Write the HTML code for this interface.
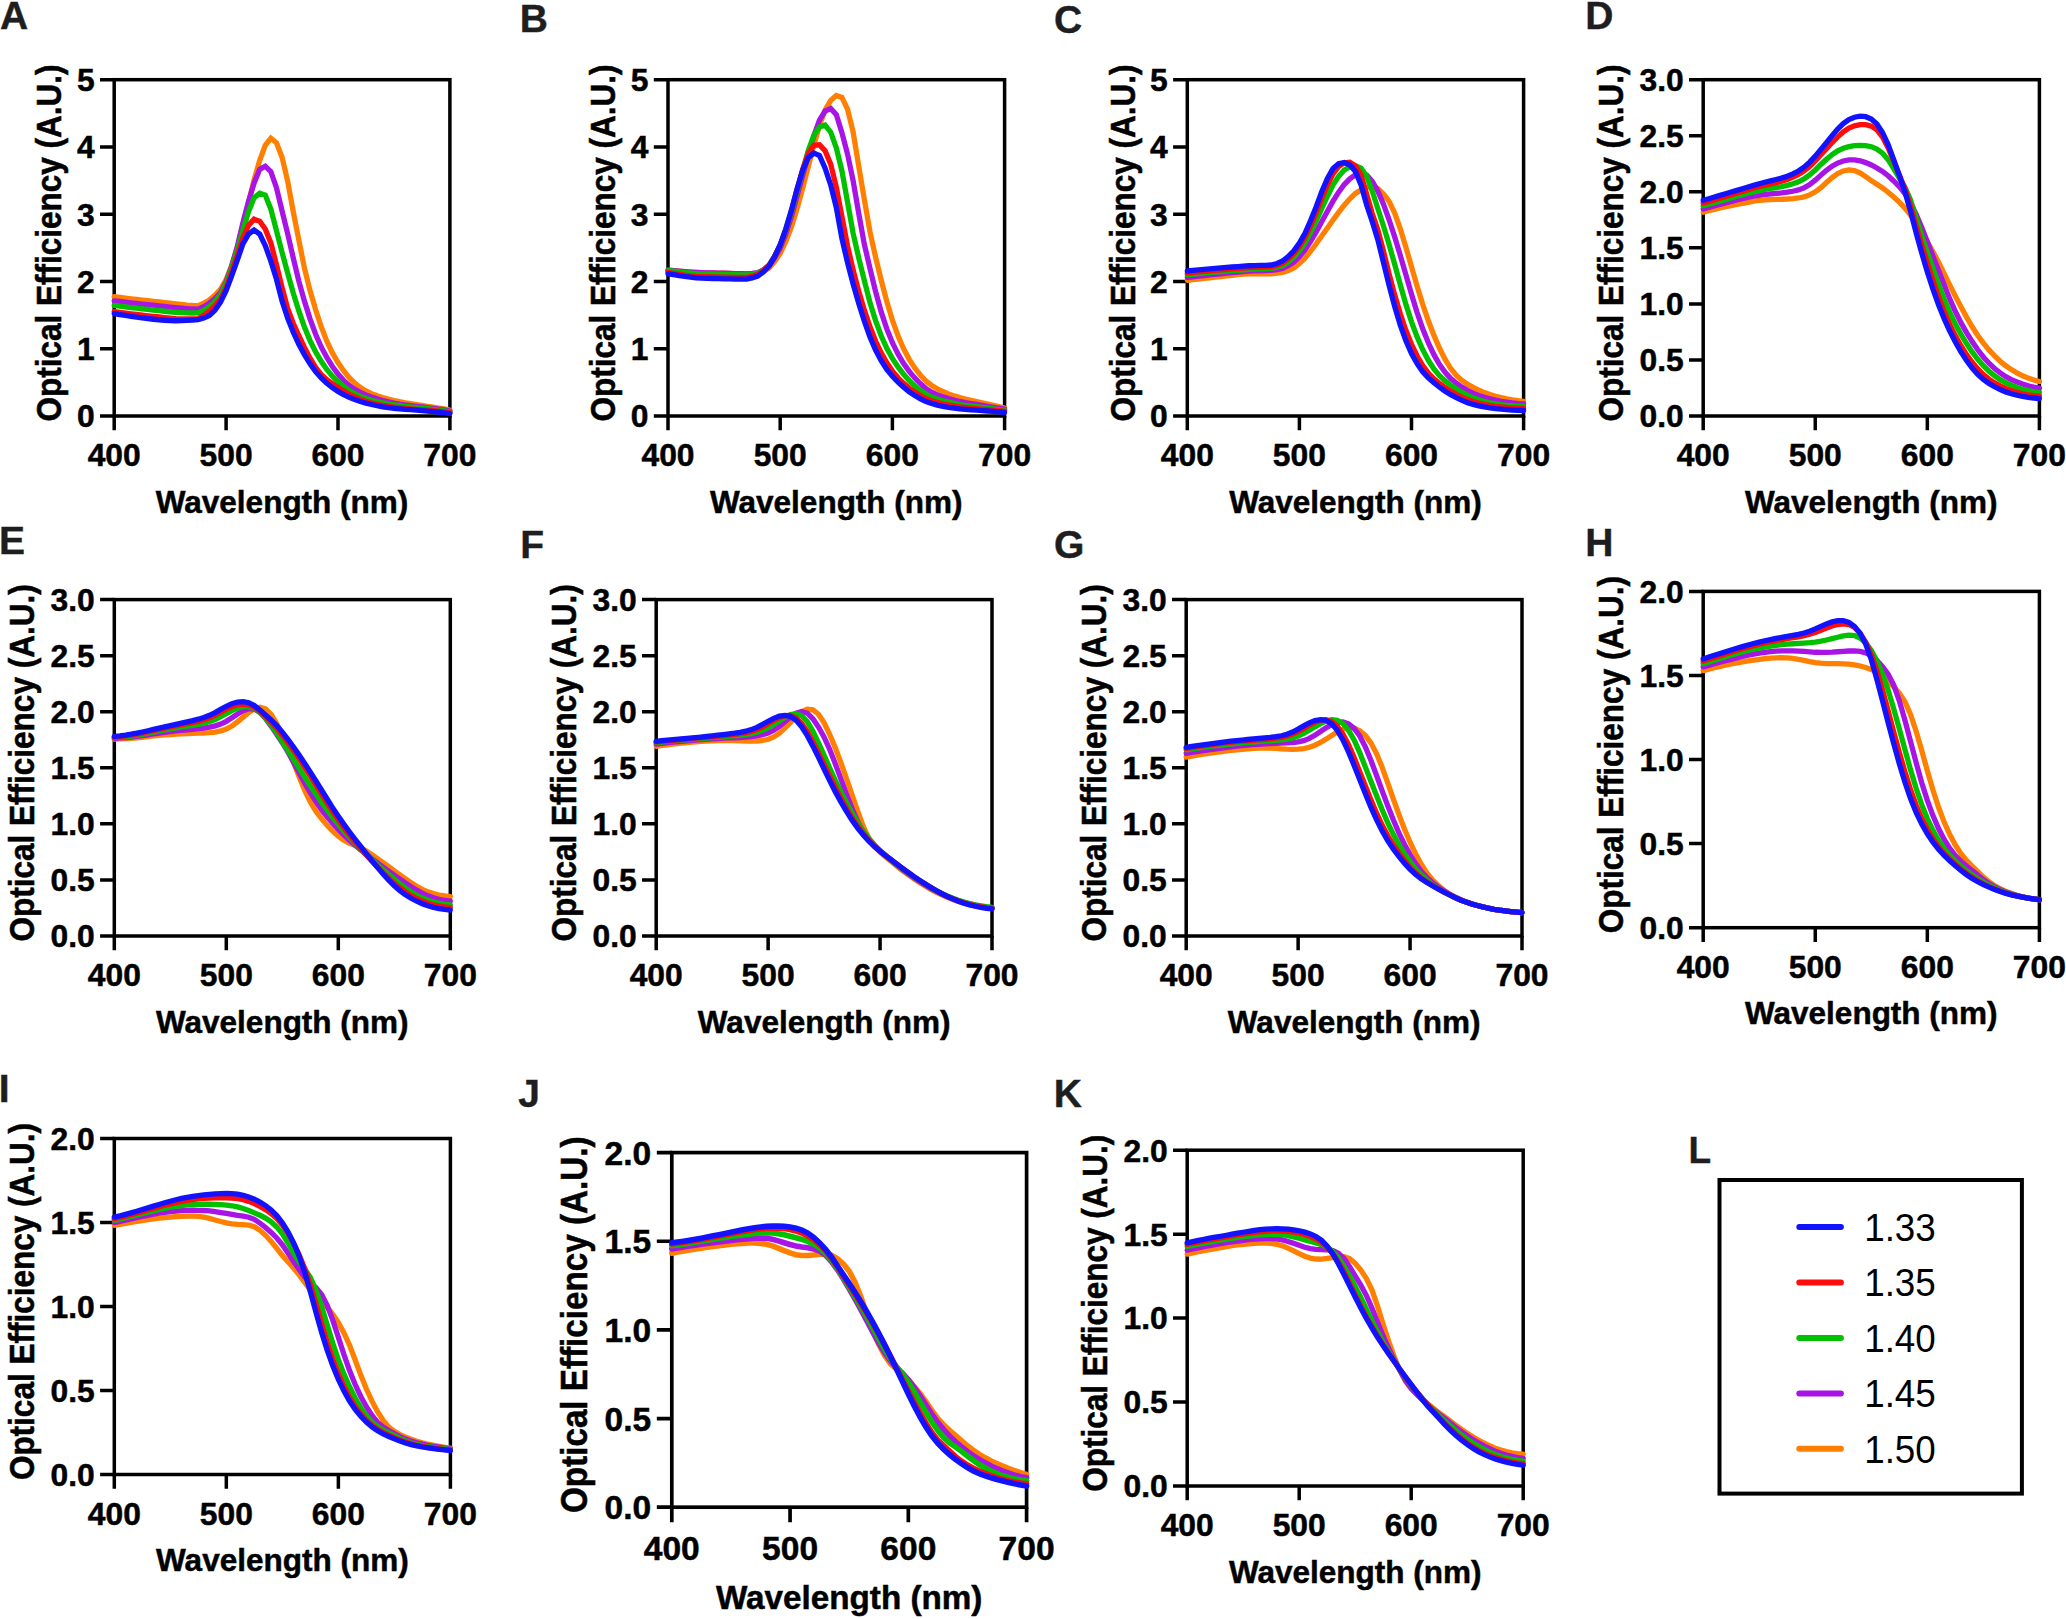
<!DOCTYPE html>
<html lang="en"><head><meta charset="utf-8"><title>Optical Efficiency vs Wavelength</title>
<style>
html,body{margin:0;padding:0;background:#fff}
body{width:2066px;height:1619px;overflow:hidden}
svg{display:block}
text{font-family:"Liberation Sans",sans-serif}
.b{font-weight:700;fill:#000;stroke:#000;stroke-width:0.5px}
.let{font-weight:700;fill:#1e1e1e;stroke:#1e1e1e;stroke-width:0.4px}
.ax{stroke:#000;fill:none;stroke-linecap:butt}
.cv{fill:none;stroke-linejoin:miter;stroke-linecap:round}
</style></head><body>
<svg width="2066" height="1619" viewBox="0 0 2066 1619">
<rect width="2066" height="1619" fill="#fff"/>
<g id="panel-A">
<text class="let" x="0" y="28.6" font-size="39">A</text>
<rect class="ax" x="114.2" y="79.7" width="335.7" height="336.3" stroke-width="3.5"/>
<path class="ax" stroke-width="3.5" d="M100,416 H114.2 M100,348.74 H114.2 M100,281.48 H114.2 M100,214.22 H114.2 M100,146.96 H114.2 M100,79.7 H114.2 M114.2,416 V430.2 M226.1,416 V430.2 M338,416 V430.2 M449.9,416 V430.2"/>
<g class="b" font-size="31.8" text-anchor="end">
<text x="94.7" y="427.38">0</text>
<text x="94.7" y="360.12">1</text>
<text x="94.7" y="292.86">2</text>
<text x="94.7" y="225.6">3</text>
<text x="94.7" y="158.34">4</text>
<text x="94.7" y="91.08">5</text>
</g>
<g class="b" font-size="31.8" text-anchor="middle">
<text x="114.2" y="466">400</text>
<text x="226.1" y="466">500</text>
<text x="338" y="466">600</text>
<text x="449.9" y="466">700</text>
</g>
<text class="b" font-size="31.5" text-anchor="middle" x="282.05" y="512.5">Wavelength (nm)</text>
<text class="b" font-size="31.5" text-anchor="middle" transform="translate(61.4,242.95) rotate(-90) scale(1,1.1)">Optical Efficiency (A.U.)</text>
<g class="cv" stroke-width="5.3">
<path stroke="#ff8000" d="M114.2,296.7 119.8,297.4 125.39,298.09 130.99,298.76 136.58,299.42 142.18,300.06 147.77,300.7 153.37,301.34 158.96,301.97 164.56,302.6 170.15,303.23 175.75,303.88 181.34,304.49 186.94,305.04 192.53,305.46 198.12,305.66 203.72,303.31 209.31,299.89 214.91,295.28 220.5,289.22 226.1,279.71 231.69,265.52 237.29,247.82 242.88,225.47 248.48,202.79 254.07,180.05 259.67,160.56 265.26,145.42 270.86,138.26 276.45,142.78 282.05,157.23 287.64,181.04 293.24,211.84 298.83,239.96 304.43,268.25 310.02,290.58 315.62,309.74 321.21,326.61 326.81,341.14 332.4,352.94 338,362.55 343.59,370.69 349.19,377.62 354.78,383.21 360.38,387.54 365.97,390.94 371.57,393.61 377.16,395.76 382.76,397.56 388.35,399.11 393.95,400.48 399.54,401.71 405.14,402.78 410.73,403.73 416.33,404.62 421.92,405.48 427.52,406.31 433.11,407.14 438.71,408.01 444.3,408.96 449.9,410.02"/>
<path stroke="#a813e6" d="M114.2,300.8 119.8,301.48 125.39,302.14 130.99,302.78 136.58,303.41 142.18,304.02 147.77,304.63 153.37,305.23 158.96,305.83 164.56,306.42 170.15,307.02 175.75,307.61 181.34,308.17 186.94,308.65 192.53,309.02 198.12,309.15 203.72,306.65 209.31,303.12 214.91,298.57 220.5,292.47 226.1,281.97 231.69,266.06 237.29,246.74 242.88,222.93 248.48,201.47 254.07,183.24 259.67,169.33 265.26,166.19 270.86,171.72 276.45,187.65 282.05,210.92 287.64,233.53 293.24,257.85 298.83,281.12 304.43,301.14 310.02,318.8 315.62,334.24 321.21,346.96 326.81,357.43 332.4,366.44 338,374.11 343.59,380.37 349.19,385.39 354.78,389.32 360.38,392.43 365.97,394.99 371.57,397.1 377.16,398.89 382.76,400.45 388.35,401.83 393.95,403.05 399.54,404.11 405.14,404.97 410.73,405.67 416.33,406.3 421.92,406.94 427.52,407.61 433.11,408.31 438.71,409.08 444.3,409.97 449.9,411.03"/>
<path stroke="#00c000" d="M114.2,305.3 119.8,306.07 125.39,306.8 130.99,307.51 136.58,308.18 142.18,308.83 147.77,309.46 153.37,310.07 158.96,310.66 164.56,311.24 170.15,311.8 175.75,312.27 181.34,312.63 186.94,312.88 192.53,313 198.12,312.92 203.72,310.39 209.31,306.73 214.91,301.65 220.5,294.67 226.1,283.52 231.69,267.86 237.29,250.35 242.88,230.59 248.48,211.73 254.07,197.85 259.67,193.21 265.26,195.11 270.86,209.15 276.45,230.63 282.05,252.36 287.64,273.01 293.24,292.91 298.83,310.98 304.43,327.04 310.02,340.62 315.62,351.93 321.21,361.35 326.81,369.42 332.4,376.16 338,381.68 343.59,386.39 349.19,390.47 354.78,393.79 360.38,396.45 365.97,398.59 371.57,400.31 377.16,401.73 382.76,402.94 388.35,403.99 393.95,404.91 399.54,405.72 405.14,406.41 410.73,406.99 416.33,407.55 421.92,408.12 427.52,408.73 433.11,409.38 438.71,410.11 444.3,410.98 449.9,412.03"/>
<path stroke="#ff0d0d" d="M114.2,311.5 119.8,312.3 125.39,313.06 130.99,313.78 136.58,314.47 142.18,315.13 147.77,315.76 153.37,316.37 158.96,316.96 164.56,317.54 170.15,318.1 175.75,318.54 181.34,318.84 186.94,318.98 192.53,318.96 198.12,318.67 203.72,315.35 209.31,310.9 214.91,305.84 220.5,299 226.1,287.54 231.69,271.9 237.29,255.39 242.88,237.98 248.48,225.5 254.07,219.21 259.67,221.16 265.26,228.96 270.86,242.94 276.45,264.61 282.05,287.44 287.64,308.43 293.24,323.26 298.83,335.71 304.43,347.49 310.02,358.14 315.62,367.34 321.21,374.45 326.81,379.59 332.4,383.66 338,387.34 343.59,390.89 349.19,394.17 354.78,396.97 360.38,399.29 365.97,401.22 371.57,402.8 377.16,404.12 382.76,405.25 388.35,406.21 393.95,407.03 399.54,407.74 405.14,408.33 410.73,408.84 416.33,409.3 421.92,409.76 427.52,410.22 433.11,410.69 438.71,411.23 444.3,411.93 449.9,412.84"/>
<path stroke="#1212ff" d="M114.2,313.6 119.8,314.55 125.39,315.46 130.99,316.33 136.58,317.15 142.18,317.92 147.77,318.62 153.37,319.25 158.96,319.8 164.56,320.26 170.15,320.61 175.75,320.73 181.34,320.64 186.94,320.4 192.53,320.08 198.12,319.71 203.72,318.11 209.31,315.56 214.91,310.18 220.5,302.27 226.1,290.78 231.69,275.92 237.29,260.15 242.88,243.85 248.48,234.14 254.07,229.93 259.67,234.06 265.26,245.62 270.86,261.21 276.45,279.31 282.05,301.04 287.64,318.13 293.24,332.25 298.83,344.31 304.43,354.8 310.02,363.86 315.62,371.64 321.21,377.98 326.81,383.21 332.4,387.65 338,391.39 343.59,394.59 349.19,397.32 354.78,399.59 360.38,401.48 365.97,403.1 371.57,404.51 377.16,405.74 382.76,406.8 388.35,407.64 393.95,408.3 399.54,408.85 405.14,409.32 410.73,409.73 416.33,410.14 421.92,410.58 427.52,411.07 433.11,411.6 438.71,412.17 444.3,412.81 449.9,413.51"/>
</g>
</g>
<g id="panel-B">
<text class="let" x="519.8" y="31.7" font-size="39">B</text>
<rect class="ax" x="668" y="79.7" width="336.6" height="336.3" stroke-width="3.5"/>
<path class="ax" stroke-width="3.5" d="M653.8,416 H668 M653.8,348.74 H668 M653.8,281.48 H668 M653.8,214.22 H668 M653.8,146.96 H668 M653.8,79.7 H668 M668,416 V430.2 M780.2,416 V430.2 M892.4,416 V430.2 M1004.6,416 V430.2"/>
<g class="b" font-size="31.8" text-anchor="end">
<text x="648.5" y="427.38">0</text>
<text x="648.5" y="360.12">1</text>
<text x="648.5" y="292.86">2</text>
<text x="648.5" y="225.6">3</text>
<text x="648.5" y="158.34">4</text>
<text x="648.5" y="91.08">5</text>
</g>
<g class="b" font-size="31.8" text-anchor="middle">
<text x="668" y="466">400</text>
<text x="780.2" y="466">500</text>
<text x="892.4" y="466">600</text>
<text x="1004.6" y="466">700</text>
</g>
<text class="b" font-size="31.5" text-anchor="middle" x="836.3" y="512.5">Wavelength (nm)</text>
<text class="b" font-size="31.5" text-anchor="middle" transform="translate(615.2,242.95) rotate(-90) scale(1,1.1)">Optical Efficiency (A.U.)</text>
<g class="cv" stroke-width="5.3">
<path stroke="#ff8000" d="M668,270.13 673.61,270.68 679.22,271.22 684.83,271.72 690.44,272.16 696.05,272.51 701.66,272.74 707.27,272.87 712.88,272.96 718.49,273.06 724.1,273.19 729.71,273.36 735.32,273.53 740.93,273.7 746.54,273.85 752.15,273.84 757.76,273.5 763.37,271.41 768.98,268.14 774.59,261.73 780.2,253.44 785.81,241.57 791.42,226.94 797.03,208.66 802.64,188.36 808.25,166.52 813.86,145.25 819.47,125.56 825.08,110.15 830.69,100.46 836.3,95.48 841.91,97.43 847.52,109.08 853.13,132.06 858.74,166.23 864.35,199.66 869.96,231.74 875.57,257.14 881.18,280.18 886.79,301.48 892.4,320.17 898.01,335.8 903.62,348.7 909.23,359.34 914.84,368.08 920.45,375.24 926.06,381.01 931.67,385.45 937.28,388.83 942.89,391.57 948.5,393.88 954.11,395.89 959.72,397.65 965.33,399.14 970.94,400.4 976.55,401.59 982.16,402.8 987.77,404.07 993.38,405.36 998.99,406.67 1004.6,408"/>
<path stroke="#a813e6" d="M668,270.13 673.61,270.68 679.22,271.22 684.83,271.72 690.44,272.16 696.05,272.51 701.66,272.74 707.27,272.87 712.88,272.97 718.49,273.06 724.1,273.19 729.71,273.36 735.32,273.54 740.93,273.71 746.54,273.81 752.15,273.44 757.76,272.66 763.37,270.01 768.98,265.93 774.59,258.1 780.2,248 785.81,233.81 791.42,216.44 797.03,195.95 802.64,175.65 808.25,155.4 813.86,135.78 819.47,120.09 825.08,111.1 830.69,108.51 836.3,114.58 841.91,132.62 847.52,154.01 853.13,180.74 858.74,213.55 864.35,244.43 869.96,268.43 875.57,291.51 881.18,311.93 886.79,328.89 892.4,342.74 898.01,354.09 903.62,363.49 909.23,371.38 914.84,378.08 920.45,383.86 926.06,388.62 931.67,392.18 937.28,394.82 942.89,396.9 948.5,398.63 954.11,400.14 959.72,401.47 965.33,402.59 970.94,403.56 976.55,404.46 982.16,405.37 987.77,406.31 993.38,407.26 998.99,408.23 1004.6,409.2"/>
<path stroke="#00c000" d="M668,270.56 673.61,271.24 679.22,271.91 684.83,272.54 690.44,273.09 696.05,273.53 701.66,273.82 707.27,274.03 712.88,274.19 718.49,274.34 724.1,274.49 729.71,274.62 735.32,274.73 740.93,274.83 746.54,274.85 752.15,274.25 757.76,273.15 763.37,269.93 768.98,265.08 774.59,256.32 780.2,245.42 785.81,230.76 791.42,212.77 797.03,191.72 802.64,170.72 808.25,150.6 813.86,135.46 819.47,127.01 825.08,125.12 830.69,132.21 836.3,147.76 841.91,170.87 847.52,201.96 853.13,233.3 858.74,257.99 864.35,280.6 869.96,302.64 875.57,320.56 881.18,335.74 886.79,348.26 892.4,358.5 898.01,366.96 903.62,374.24 909.23,380.59 914.84,386.01 920.45,390.57 926.06,394.29 931.67,397.07 937.28,399.13 942.89,400.77 948.5,402.18 954.11,403.43 959.72,404.52 965.33,405.39 970.94,406.09 976.55,406.72 982.16,407.38 987.77,408.08 993.38,408.81 998.99,409.55 1004.6,410.3"/>
<path stroke="#ff0d0d" d="M668,272.29 673.61,273.24 679.22,274.18 684.83,275.06 690.44,275.8 696.05,276.35 701.66,276.63 707.27,276.76 712.88,276.87 718.49,276.97 724.1,277.08 729.71,277.19 735.32,277.31 740.93,277.42 746.54,277.38 752.15,276.18 757.76,274.37 763.37,270.62 768.98,265.31 774.59,256.41 780.2,245.16 785.81,229.86 791.42,211.14 797.03,189.45 802.64,169.54 808.25,153.47 813.86,145.33 819.47,144.85 825.08,150.71 830.69,164.16 836.3,186.96 841.91,216.53 847.52,245.73 853.13,269.98 858.74,291.38 864.35,310.16 869.96,326.81 875.57,341.01 881.18,352.93 886.79,362.83 892.4,371.08 898.01,377.79 903.62,383.34 909.23,388.06 914.84,392.09 920.45,395.59 926.06,398.5 931.67,400.72 937.28,402.4 942.89,403.75 948.5,404.89 954.11,405.89 959.72,406.76 965.33,407.47 970.94,408.05 976.55,408.58 982.16,409.11 987.77,409.66 993.38,410.2 998.99,410.75 1004.6,411.3"/>
<path stroke="#1212ff" d="M668,273.81 673.61,274.73 679.22,275.65 684.83,276.5 690.44,277.24 696.05,277.81 701.66,278.15 707.27,278.35 712.88,278.52 718.49,278.67 724.1,278.81 729.71,278.95 735.32,279.07 740.93,279.16 746.54,279.11 752.15,277.92 757.76,276.04 763.37,271.92 768.98,266.15 774.59,256.68 780.2,244.73 785.81,228.86 791.42,210.13 797.03,189.13 802.64,170.42 808.25,157.74 813.86,153.16 819.47,155.43 825.08,168.1 830.69,184.91 836.3,207.54 841.91,238.58 847.52,262.69 853.13,284 858.74,303.56 864.35,321.28 869.96,337.03 875.57,350.02 881.18,360.71 886.79,369.33 892.4,376.29 898.01,382.13 903.62,387.27 909.23,391.76 914.84,395.58 920.45,398.85 926.06,401.55 931.67,403.59 937.28,405.13 942.89,406.34 948.5,407.31 954.11,408.11 959.72,408.79 965.33,409.32 970.94,409.76 976.55,410.16 982.16,410.57 987.77,410.99 993.38,411.42 998.99,411.86 1004.6,412.3"/>
</g>
</g>
<g id="panel-C">
<text class="let" x="1054" y="33" font-size="39">C</text>
<rect class="ax" x="1187.3" y="79.7" width="336.3" height="336.3" stroke-width="3.5"/>
<path class="ax" stroke-width="3.5" d="M1173.1,416 H1187.3 M1173.1,348.74 H1187.3 M1173.1,281.48 H1187.3 M1173.1,214.22 H1187.3 M1173.1,146.96 H1187.3 M1173.1,79.7 H1187.3 M1187.3,416 V430.2 M1299.4,416 V430.2 M1411.5,416 V430.2 M1523.6,416 V430.2"/>
<g class="b" font-size="31.8" text-anchor="end">
<text x="1167.8" y="427.38">0</text>
<text x="1167.8" y="360.12">1</text>
<text x="1167.8" y="292.86">2</text>
<text x="1167.8" y="225.6">3</text>
<text x="1167.8" y="158.34">4</text>
<text x="1167.8" y="91.08">5</text>
</g>
<g class="b" font-size="31.8" text-anchor="middle">
<text x="1187.3" y="466">400</text>
<text x="1299.4" y="466">500</text>
<text x="1411.5" y="466">600</text>
<text x="1523.6" y="466">700</text>
</g>
<text class="b" font-size="31.5" text-anchor="middle" x="1355.45" y="512.5">Wavelength (nm)</text>
<text class="b" font-size="31.5" text-anchor="middle" transform="translate(1134.5,242.95) rotate(-90) scale(1,1.1)">Optical Efficiency (A.U.)</text>
<g class="cv" stroke-width="5.3">
<path stroke="#ff8000" d="M1187.3,280.29 1192.9,279.64 1198.51,279 1204.12,278.37 1209.72,277.75 1215.33,277.14 1220.93,276.54 1226.53,275.92 1232.14,275.28 1237.74,274.67 1243.35,274.15 1248.95,273.78 1254.56,273.66 1260.16,273.74 1265.77,273.84 1271.38,273.75 1276.98,273.22 1282.59,272.4 1288.19,270.52 1293.79,267.87 1299.4,263.57 1305,258.14 1310.61,251.24 1316.21,243.79 1321.82,235.83 1327.42,227.91 1333.03,220.04 1338.63,212.41 1344.24,205.17 1349.85,198.78 1355.45,193.44 1361.05,189.89 1366.66,187.49 1372.26,186.72 1377.87,188.55 1383.47,194.09 1389.08,201.43 1394.68,213.1 1400.29,228.78 1405.89,247.16 1411.5,266.74 1417.11,286.15 1422.71,304.31 1428.32,320.75 1433.92,335.41 1439.52,348.3 1445.13,359.37 1450.73,368.52 1456.34,375.43 1461.94,380.41 1467.55,384.24 1473.15,387.42 1478.76,390.19 1484.37,392.6 1489.97,394.58 1495.57,396.22 1501.18,397.61 1506.78,398.8 1512.39,399.84 1517.99,400.73 1523.6,401.46"/>
<path stroke="#a813e6" d="M1187.3,277.48 1192.9,276.82 1198.51,276.17 1204.12,275.53 1209.72,274.91 1215.33,274.31 1220.93,273.74 1226.53,273.17 1232.14,272.6 1237.74,272.07 1243.35,271.59 1248.95,271.17 1254.56,270.93 1260.16,270.81 1265.77,270.71 1271.38,270.47 1276.98,269.74 1282.59,268.56 1288.19,265.77 1293.79,262.06 1299.4,256.65 1305,249.92 1310.61,241.31 1316.21,231.86 1321.82,221.58 1327.42,211.29 1333.03,201.1 1338.63,192.16 1344.24,184.52 1349.85,178.85 1355.45,174.79 1361.05,173.61 1366.66,175.2 1372.26,181.43 1377.87,191.1 1383.47,204.19 1389.08,219.75 1394.68,236.93 1400.29,255.41 1405.89,274.83 1411.5,294.35 1417.11,312.62 1422.71,328.78 1428.32,342.8 1433.92,354.68 1439.52,364.48 1445.13,372.37 1450.73,378.47 1456.34,383.18 1461.94,387.08 1467.55,390.4 1473.15,393.13 1478.76,395.39 1484.37,397.27 1489.97,398.84 1495.57,400.17 1501.18,401.29 1506.78,402.19 1512.39,402.93 1517.99,403.53 1523.6,403.96"/>
<path stroke="#00c000" d="M1187.3,274.89 1192.9,274.29 1198.51,273.71 1204.12,273.14 1209.72,272.6 1215.33,272.08 1220.93,271.59 1226.53,271.12 1232.14,270.67 1237.74,270.25 1243.35,269.84 1248.95,269.44 1254.56,269.13 1260.16,268.89 1265.77,268.64 1271.38,268.28 1276.98,267.23 1282.59,265.58 1288.19,262 1293.79,257.35 1299.4,250.84 1305,242.77 1310.61,232.46 1316.21,220.95 1321.82,208.29 1327.42,196.2 1333.03,184.88 1338.63,176.32 1344.24,169.96 1349.85,166.68 1355.45,165.8 1361.05,168.05 1366.66,176.24 1372.26,191.05 1377.87,208.8 1383.47,226.04 1389.08,244.6 1394.68,264.34 1400.29,284.69 1405.89,304.37 1411.5,321.87 1417.11,336.9 1422.71,349.69 1428.32,360.3 1433.92,368.89 1439.52,375.61 1445.13,380.86 1450.73,385.23 1456.34,389.03 1461.94,392.44 1467.55,395.42 1473.15,397.87 1478.76,399.85 1484.37,401.46 1489.97,402.76 1495.57,403.82 1501.18,404.67 1506.78,405.3 1512.39,405.75 1517.99,406.08 1523.6,406.27"/>
<path stroke="#ff0d0d" d="M1187.3,273.16 1192.9,272.56 1198.51,271.98 1204.12,271.41 1209.72,270.87 1215.33,270.35 1220.93,269.86 1226.53,269.39 1232.14,268.94 1237.74,268.51 1243.35,268.1 1248.95,267.71 1254.56,267.44 1260.16,267.27 1265.77,267.09 1271.38,266.75 1276.98,265.39 1282.59,263.24 1288.19,258.97 1293.79,253.64 1299.4,246.51 1305,237.48 1310.61,225.63 1316.21,212.42 1321.82,197.92 1327.42,185.02 1333.03,173.8 1338.63,166.46 1344.24,162.81 1349.85,162.21 1355.45,165.8 1361.05,175.14 1366.66,194.23 1372.26,213.48 1377.87,230.05 1383.47,251.19 1389.08,273.79 1394.68,294.86 1400.29,313.79 1405.89,330.24 1411.5,344.29 1417.11,356 1422.71,365.52 1428.32,373.01 1433.92,378.74 1439.52,383.45 1445.13,387.57 1450.73,391.18 1456.34,394.34 1461.94,397.15 1467.55,399.58 1473.15,401.53 1478.76,403.09 1484.37,404.37 1489.97,405.41 1495.57,406.28 1501.18,406.97 1506.78,407.47 1512.39,407.81 1517.99,408.05 1523.6,408.18"/>
<path stroke="#1212ff" d="M1187.3,271 1192.9,270.45 1198.51,269.92 1204.12,269.39 1209.72,268.88 1215.33,268.39 1220.93,267.91 1226.53,267.45 1232.14,267 1237.74,266.57 1243.35,266.16 1248.95,265.77 1254.56,265.53 1260.16,265.43 1265.77,265.32 1271.38,265.01 1276.98,263.43 1282.59,261.01 1288.19,256.54 1293.79,250.87 1299.4,243.05 1305,233.21 1310.61,220.56 1316.21,206.65 1321.82,191.57 1327.42,178.37 1333.03,168.52 1338.63,163.76 1344.24,162.47 1349.85,164.96 1355.45,171.48 1361.05,184.93 1366.66,205.06 1372.26,221.73 1377.87,239.98 1383.47,262.61 1389.08,285.31 1394.68,306.55 1400.29,325.17 1405.89,340.78 1411.5,353.5 1417.11,363.72 1422.71,371.74 1428.32,377.86 1433.92,382.83 1439.52,387.23 1445.13,391.17 1450.73,394.64 1456.34,397.67 1461.94,400.35 1467.55,402.64 1473.15,404.43 1478.76,405.84 1484.37,406.97 1489.97,407.88 1495.57,408.62 1501.18,409.22 1506.78,409.68 1512.39,410.04 1517.99,410.3 1523.6,410.48"/>
</g>
</g>
<g id="panel-D">
<text class="let" x="1585.3" y="29.3" font-size="39">D</text>
<rect class="ax" x="1703.2" y="79.7" width="336.2" height="336.3" stroke-width="3.5"/>
<path class="ax" stroke-width="3.5" d="M1689,416 H1703.2 M1689,359.95 H1703.2 M1689,303.9 H1703.2 M1689,247.85 H1703.2 M1689,191.8 H1703.2 M1689,135.75 H1703.2 M1689,79.7 H1703.2 M1703.2,416 V430.2 M1815.27,416 V430.2 M1927.33,416 V430.2 M2039.4,416 V430.2"/>
<g class="b" font-size="31.8" text-anchor="end">
<text x="1683.7" y="427.38">0.0</text>
<text x="1683.7" y="371.33">0.5</text>
<text x="1683.7" y="315.28">1.0</text>
<text x="1683.7" y="259.23">1.5</text>
<text x="1683.7" y="203.18">2.0</text>
<text x="1683.7" y="147.13">2.5</text>
<text x="1683.7" y="91.08">3.0</text>
</g>
<g class="b" font-size="31.8" text-anchor="middle">
<text x="1703.2" y="466">400</text>
<text x="1815.27" y="466">500</text>
<text x="1927.33" y="466">600</text>
<text x="2039.4" y="466">700</text>
</g>
<text class="b" font-size="31.5" text-anchor="middle" x="1871.3" y="512.5">Wavelength (nm)</text>
<text class="b" font-size="31.5" text-anchor="middle" transform="translate(1622.9,242.95) rotate(-90) scale(1,1.1)">Optical Efficiency (A.U.)</text>
<g class="cv" stroke-width="5.3">
<path stroke="#ff8000" d="M1703.2,212.2 1708.8,210.77 1714.41,209.37 1720.01,208.04 1725.61,206.78 1731.22,205.58 1736.82,204.43 1742.42,203.34 1748.03,202.28 1753.63,201.25 1759.23,200.36 1764.84,199.77 1770.44,199.49 1776.04,199.36 1781.65,199.24 1787.25,198.99 1792.85,198.61 1798.46,197.98 1804.06,196.85 1809.66,194.91 1815.27,191.88 1820.87,187.64 1826.47,182.52 1832.08,177.5 1837.68,173.5 1843.28,170.95 1848.89,169.98 1854.49,170.66 1860.09,172.97 1865.7,176.59 1871.3,180.64 1876.9,184.31 1882.51,187.98 1888.11,192.21 1893.71,196.96 1899.32,202.18 1904.92,208.08 1910.52,215.01 1916.13,223.15 1921.73,232.31 1927.33,241.94 1932.94,251.72 1938.54,262.17 1944.14,273.58 1949.75,285.08 1955.35,296.09 1960.95,306.76 1966.56,317.09 1972.16,326.77 1977.76,335.47 1983.37,343.13 1988.97,349.89 1994.57,355.89 2000.18,361.2 2005.78,365.76 2011.38,369.64 2016.99,372.95 2022.59,375.77 2028.19,378.09 2033.8,379.98 2039.4,381.48"/>
<path stroke="#a813e6" d="M1703.2,208.95 1708.8,207.48 1714.41,206 1720.01,204.53 1725.61,203.05 1731.22,201.55 1736.82,200.05 1742.42,198.63 1748.03,197.35 1753.63,196.23 1759.23,195.27 1764.84,194.49 1770.44,193.9 1776.04,193.41 1781.65,192.89 1787.25,192.2 1792.85,191.27 1798.46,189.95 1804.06,187.87 1809.66,184.64 1815.27,180.2 1820.87,175.15 1826.47,170.31 1832.08,166.17 1837.68,163.05 1843.28,160.99 1848.89,159.89 1854.49,159.84 1860.09,160.84 1865.7,162.61 1871.3,165.01 1876.9,167.96 1882.51,171.44 1888.11,175.74 1893.71,180.98 1899.32,186.65 1904.92,193.51 1910.52,202.84 1916.13,214.26 1921.73,227.47 1927.33,241.81 1932.94,256.24 1938.54,270.56 1944.14,284.9 1949.75,298.87 1955.35,311.54 1960.95,322.66 1966.56,332.59 1972.16,341.62 1977.76,349.78 1983.37,356.98 1988.97,363.21 1994.57,368.5 2000.18,372.95 2005.78,376.62 2011.38,379.59 2016.99,382.03 2022.59,384.07 2028.19,385.78 2033.8,387.13 2039.4,388.17"/>
<path stroke="#00c000" d="M1703.2,205.71 1708.8,204.21 1714.41,202.7 1720.01,201.16 1725.61,199.58 1731.22,197.95 1736.82,196.3 1742.42,194.69 1748.03,193.19 1753.63,191.83 1759.23,190.59 1764.84,189.46 1770.44,188.47 1776.04,187.55 1781.65,186.56 1787.25,185.35 1792.85,183.8 1798.46,181.77 1804.06,178.94 1809.66,174.99 1815.27,169.98 1820.87,164.47 1826.47,159.2 1832.08,154.58 1837.68,150.92 1843.28,148.31 1848.89,146.63 1854.49,145.67 1860.09,145.28 1865.7,145.54 1871.3,146.68 1876.9,149.04 1882.51,153.15 1888.11,159.71 1893.71,168.64 1899.32,178.16 1904.92,187.22 1910.52,199.96 1916.13,217.7 1921.73,235.73 1927.33,252.31 1932.94,268.35 1938.54,284.15 1944.14,299.02 1949.75,312.37 1955.35,324.07 1960.95,334.32 1966.56,343.53 1972.16,351.87 1977.76,359.28 1983.37,365.7 1988.97,371.19 1994.57,375.8 2000.18,379.63 2005.78,382.74 2011.38,385.27 2016.99,387.4 2022.59,389.21 2028.19,390.67 2033.8,391.79 2039.4,392.62"/>
<path stroke="#ff0d0d" d="M1703.2,203.11 1708.8,201.51 1714.41,199.89 1720.01,198.24 1725.61,196.55 1731.22,194.83 1736.82,193.08 1742.42,191.35 1748.03,189.67 1753.63,188.07 1759.23,186.54 1764.84,185.12 1770.44,183.84 1776.04,182.61 1781.65,181.25 1787.25,179.48 1792.85,177.19 1798.46,174.36 1804.06,170.85 1809.66,166.39 1815.27,160.92 1820.87,154.83 1826.47,148.63 1832.08,142.57 1837.68,136.86 1843.28,131.9 1848.89,128.18 1854.49,125.81 1860.09,124.62 1865.7,124.6 1871.3,126.1 1876.9,129.9 1882.51,136.98 1888.11,147.75 1893.71,161.25 1899.32,175.07 1904.92,188.66 1910.52,205.79 1916.13,225.83 1921.73,244.9 1927.33,262.84 1932.94,280.3 1938.54,296.77 1944.14,311.6 1949.75,324.59 1955.35,335.81 1960.95,345.72 1966.56,354.56 1972.16,362.29 1977.76,368.93 1983.37,374.56 1988.97,379.16 1994.57,382.86 2000.18,385.91 2005.78,388.49 2011.38,390.65 2016.99,392.42 2022.59,393.78 2028.19,394.79 2033.8,395.54 2039.4,396.04"/>
<path stroke="#1212ff" d="M1703.2,200.3 1708.8,198.68 1714.41,197.05 1720.01,195.41 1725.61,193.76 1731.22,192.08 1736.82,190.4 1742.42,188.72 1748.03,187.05 1753.63,185.41 1759.23,183.81 1764.84,182.29 1770.44,180.89 1776.04,179.53 1781.65,178.06 1787.25,176.25 1792.85,173.94 1798.46,170.99 1804.06,167.12 1809.66,162.14 1815.27,156.17 1820.87,149.52 1826.47,142.57 1832.08,135.63 1837.68,129.11 1843.28,123.57 1848.89,119.58 1854.49,117.2 1860.09,116.23 1865.7,116.71 1871.3,119.06 1876.9,124.03 1882.51,132.47 1888.11,144.64 1893.71,159.58 1899.32,175.28 1904.92,191.68 1910.52,211.32 1916.13,232.72 1921.73,253.06 1927.33,271.9 1932.94,289.19 1938.54,304.84 1944.14,318.78 1949.75,331.08 1955.35,342.02 1960.95,351.85 1966.56,360.57 1972.16,368.04 1977.76,374.27 1983.37,379.35 1988.97,383.43 1994.57,386.77 2000.18,389.57 2005.78,391.89 2011.38,393.73 2016.99,395.19 2022.59,396.33 2028.19,397.26 2033.8,398.01 2039.4,398.57"/>
</g>
</g>
<g id="panel-E">
<text class="let" x="-0.9" y="553.6" font-size="39">E</text>
<rect class="ax" x="114.3" y="599.6" width="336" height="336.4" stroke-width="3.5"/>
<path class="ax" stroke-width="3.5" d="M100.1,936 H114.3 M100.1,879.93 H114.3 M100.1,823.87 H114.3 M100.1,767.8 H114.3 M100.1,711.73 H114.3 M100.1,655.67 H114.3 M100.1,599.6 H114.3 M114.3,936 V950.2 M226.3,936 V950.2 M338.3,936 V950.2 M450.3,936 V950.2"/>
<g class="b" font-size="31.8" text-anchor="end">
<text x="94.8" y="947.38">0.0</text>
<text x="94.8" y="891.32">0.5</text>
<text x="94.8" y="835.25">1.0</text>
<text x="94.8" y="779.18">1.5</text>
<text x="94.8" y="723.12">2.0</text>
<text x="94.8" y="667.05">2.5</text>
<text x="94.8" y="610.98">3.0</text>
</g>
<g class="b" font-size="31.8" text-anchor="middle">
<text x="114.3" y="986">400</text>
<text x="226.3" y="986">500</text>
<text x="338.3" y="986">600</text>
<text x="450.3" y="986">700</text>
</g>
<text class="b" font-size="31.5" text-anchor="middle" x="282.3" y="1032.5">Wavelength (nm)</text>
<text class="b" font-size="31.5" text-anchor="middle" transform="translate(34,762.9) rotate(-90) scale(1,1.1)">Optical Efficiency (A.U.)</text>
<g class="cv" stroke-width="5.3">
<path stroke="#ff8000" d="M114.3,739.1 119.9,738.95 125.5,738.71 131.1,738.38 136.7,737.94 142.3,737.37 147.9,736.68 153.5,735.98 159.1,735.39 164.7,734.9 170.3,734.49 175.9,734.14 181.5,733.87 187.1,733.64 192.7,733.43 198.3,733.22 203.9,732.99 209.5,732.67 215.1,732.08 220.7,730.96 226.3,729.04 231.9,726.01 237.5,721.89 243.1,717.12 248.7,712.44 254.3,708.81 259.9,707.31 265.5,708.88 271.1,714.31 276.7,723.44 282.3,734.83 287.9,747.62 293.5,761.95 299.1,776.81 304.7,790.35 310.3,801.87 315.9,811.18 321.5,818.67 327.1,825.19 332.7,831.1 338.3,836.25 343.9,840.35 349.5,843.23 355.1,845.36 360.7,847.87 366.3,851.07 371.9,854.7 377.5,858.6 383.1,862.66 388.7,866.76 394.3,870.84 399.9,874.86 405.5,878.88 411.1,882.76 416.7,886.29 422.3,889.36 427.9,891.82 433.5,893.64 439.1,895.01 444.7,895.98 450.3,896.56"/>
<path stroke="#a813e6" d="M114.3,738.23 119.9,737.94 125.5,737.54 131.1,737.04 136.7,736.43 142.3,735.7 147.9,734.86 153.5,733.99 159.1,733.15 164.7,732.36 170.3,731.62 175.9,730.93 181.5,730.32 187.1,729.8 192.7,729.31 198.3,728.74 203.9,728.03 209.5,727.13 215.1,725.87 220.7,724.02 226.3,721.31 231.9,717.77 237.5,713.98 243.1,710.7 248.7,708.72 254.3,709.07 259.9,712.48 265.5,718.54 271.1,726.07 276.7,734.2 282.3,742.75 287.9,751.98 293.5,762.14 299.1,772.81 304.7,783.11 310.3,792.67 315.9,801.53 321.5,809.55 327.1,816.71 332.7,823.24 338.3,829.33 343.9,835.03 349.5,840.32 355.1,845.25 360.7,849.9 366.3,854.38 371.9,858.72 377.5,862.95 383.1,867.09 388.7,871.15 394.3,875.16 399.9,879.13 405.5,883.02 411.1,886.72 416.7,890.14 422.3,893.23 427.9,895.8 433.5,897.79 439.1,899.34 444.7,900.49 450.3,901.25"/>
<path stroke="#00c000" d="M114.3,737.57 119.9,737.23 125.5,736.74 131.1,736.1 136.7,735.32 142.3,734.36 147.9,733.24 153.5,732.07 159.1,730.94 164.7,729.88 170.3,728.86 175.9,727.89 181.5,726.97 187.1,726.11 192.7,725.26 198.3,724.3 203.9,723.1 209.5,721.55 215.1,719.45 220.7,716.76 226.3,713.71 231.9,710.68 237.5,708.19 243.1,706.71 248.7,706.62 254.3,708.4 259.9,712.35 265.5,718.01 271.1,724.94 276.7,732.91 282.3,741.5 287.9,750.32 293.5,759.23 299.1,768.19 304.7,777.07 310.3,785.71 315.9,794.1 321.5,802.23 327.1,809.98 332.7,817.34 338.3,824.37 343.9,831.1 349.5,837.47 355.1,843.45 360.7,849.09 366.3,854.52 371.9,859.77 377.5,864.88 383.1,869.83 388.7,874.63 394.3,879.28 399.9,883.8 405.5,888.13 411.1,892.04 416.7,895.36 422.3,898.09 427.9,900.26 433.5,901.92 439.1,903.24 444.7,904.26 450.3,904.94"/>
<path stroke="#ff0d0d" d="M114.3,737.14 119.9,736.63 125.5,735.98 131.1,735.18 136.7,734.24 142.3,733.16 147.9,731.93 153.5,730.65 159.1,729.39 164.7,728.18 170.3,727 175.9,725.85 181.5,724.74 187.1,723.69 192.7,722.62 198.3,721.38 203.9,719.84 209.5,717.85 215.1,715.24 220.7,712.13 226.3,709.06 231.9,706.5 237.5,704.73 243.1,704.05 248.7,704.79 254.3,707.25 259.9,711.34 265.5,716.4 271.1,722.04 276.7,728.34 282.3,735.23 287.9,742.59 293.5,750.34 299.1,758.55 304.7,767.21 310.3,776.12 315.9,785.09 321.5,794.07 327.1,802.97 332.7,811.57 338.3,819.78 343.9,827.64 349.5,835.1 355.1,842.09 360.7,848.67 366.3,855.01 371.9,861.16 377.5,867.1 383.1,872.78 388.7,878.15 394.3,883.14 399.9,887.73 405.5,891.87 411.1,895.47 416.7,898.53 422.3,901.1 427.9,903.18 433.5,904.75 439.1,905.98 444.7,906.9 450.3,907.51"/>
<path stroke="#1212ff" d="M114.3,736.49 119.9,735.86 125.5,735.09 131.1,734.19 136.7,733.16 142.3,732 147.9,730.72 153.5,729.39 159.1,728.09 164.7,726.84 170.3,725.6 175.9,724.38 181.5,723.15 187.1,721.92 192.7,720.63 198.3,719.19 203.9,717.47 209.5,715.32 215.1,712.59 220.7,709.39 226.3,706.26 231.9,703.69 237.5,702.04 243.1,701.62 248.7,702.73 254.3,705.61 259.9,709.99 265.5,714.9 271.1,719.92 276.7,725.57 282.3,732.09 287.9,739.28 293.5,746.92 299.1,754.93 304.7,763.35 310.3,772.12 315.9,781.03 321.5,790.01 327.1,799.01 332.7,807.81 338.3,816.23 343.9,824.25 349.5,831.94 355.1,839.33 360.7,846.49 366.3,853.56 371.9,860.58 377.5,867.45 383.1,874.03 388.7,880.18 394.3,885.74 399.9,890.62 405.5,894.78 411.1,898.28 416.7,901.24 422.3,903.78 427.9,905.85 433.5,907.4 439.1,908.59 444.7,909.46 450.3,910.02"/>
</g>
</g>
<g id="panel-F">
<text class="let" x="520.3" y="558" font-size="39">F</text>
<rect class="ax" x="656.2" y="599.6" width="335.8" height="336.4" stroke-width="3.5"/>
<path class="ax" stroke-width="3.5" d="M642,936 H656.2 M642,879.93 H656.2 M642,823.87 H656.2 M642,767.8 H656.2 M642,711.73 H656.2 M642,655.67 H656.2 M642,599.6 H656.2 M656.2,936 V950.2 M768.13,936 V950.2 M880.07,936 V950.2 M992,936 V950.2"/>
<g class="b" font-size="31.8" text-anchor="end">
<text x="636.7" y="947.38">0.0</text>
<text x="636.7" y="891.32">0.5</text>
<text x="636.7" y="835.25">1.0</text>
<text x="636.7" y="779.18">1.5</text>
<text x="636.7" y="723.12">2.0</text>
<text x="636.7" y="667.05">2.5</text>
<text x="636.7" y="610.98">3.0</text>
</g>
<g class="b" font-size="31.8" text-anchor="middle">
<text x="656.2" y="986">400</text>
<text x="768.13" y="986">500</text>
<text x="880.07" y="986">600</text>
<text x="992" y="986">700</text>
</g>
<text class="b" font-size="31.5" text-anchor="middle" x="824.1" y="1032.5">Wavelength (nm)</text>
<text class="b" font-size="31.5" text-anchor="middle" transform="translate(575.9,762.9) rotate(-90) scale(1,1.1)">Optical Efficiency (A.U.)</text>
<g class="cv" stroke-width="5.3">
<path stroke="#ff8000" d="M656.2,746.25 661.8,745.48 667.39,744.75 672.99,744.07 678.59,743.44 684.18,742.86 689.78,742.33 695.38,741.86 700.97,741.44 706.57,741.05 712.17,740.73 717.76,740.52 723.36,740.48 728.96,740.57 734.55,740.72 740.15,740.88 745.75,741.04 751.34,741.14 756.94,741.02 762.54,740.49 768.13,739.27 773.73,736.98 779.33,733.26 784.92,728.18 790.52,722.34 796.12,716.56 801.71,711.86 807.31,709.26 812.91,709.75 818.5,714.22 824.1,722.91 829.7,734.54 835.29,747.85 840.89,762.77 846.49,778.71 852.08,794.82 857.68,811.03 863.28,826.29 868.87,838.34 874.47,846.56 880.07,852.24 885.66,856.89 891.26,861.47 896.86,866.12 902.45,870.54 908.05,874.68 913.65,878.59 919.24,882.32 924.84,885.86 930.44,889.18 936.03,892.21 941.63,894.92 947.23,897.34 952.82,899.52 958.42,901.45 964.02,903.09 969.61,904.47 975.21,905.62 980.81,906.61 986.4,907.45 992,908.13"/>
<path stroke="#a813e6" d="M656.2,744.09 661.8,743.37 667.39,742.69 672.99,742.06 678.59,741.5 684.18,741 689.78,740.54 695.38,740.11 700.97,739.69 706.57,739.27 712.17,738.87 717.76,738.5 723.36,738.2 728.96,737.96 734.55,737.75 740.15,737.5 745.75,737.16 751.34,736.68 756.94,735.94 762.54,734.76 768.13,732.96 773.73,730.27 779.33,726.44 784.92,721.72 790.52,716.91 796.12,713.12 801.71,711.53 807.31,713.24 812.91,718.79 818.5,727.07 824.1,737.15 829.7,749.44 835.29,763.66 840.89,778.81 846.49,794.07 852.08,808.52 857.68,821.48 863.28,832.31 868.87,840.49 874.47,846.23 880.07,850.79 885.66,855.46 891.26,860.32 896.86,865.05 902.45,869.47 908.05,873.6 913.65,877.51 919.24,881.24 924.84,884.77 930.44,888.09 936.03,891.15 941.63,893.93 947.23,896.45 952.82,898.73 958.42,900.75 964.02,902.49 969.61,903.96 975.21,905.18 980.81,906.2 986.4,907.04 992,907.69"/>
<path stroke="#00c000" d="M656.2,742.57 661.8,742 667.39,741.44 672.99,740.91 678.59,740.41 684.18,739.94 689.78,739.49 695.38,739.05 700.97,738.61 706.57,738.16 712.17,737.72 717.76,737.27 723.36,736.81 728.96,736.33 734.55,735.83 740.15,735.26 745.75,734.56 751.34,733.62 756.94,732.23 762.54,730.22 768.13,727.64 773.73,724.53 779.33,720.95 784.92,717.36 790.52,714.62 796.12,713.69 801.71,715.7 807.31,721.64 812.91,731.22 818.5,742.92 824.1,755.4 829.7,767.96 835.29,780.23 840.89,791.91 846.49,802.83 852.08,813.08 857.68,822.63 863.28,831.13 868.87,838.43 874.47,844.8 880.07,850.54 885.66,855.67 891.26,860.25 896.86,864.57 902.45,868.8 908.05,872.93 913.65,876.86 919.24,880.59 924.84,884.11 930.44,887.44 936.03,890.53 941.63,893.39 947.23,895.98 952.82,898.29 958.42,900.32 964.02,902.06 969.61,903.53 975.21,904.75 980.81,905.77 986.4,906.61 992,907.26"/>
<path stroke="#ff0d0d" d="M656.2,741.92 661.8,741.37 667.39,740.82 672.99,740.28 678.59,739.75 684.18,739.24 689.78,738.73 695.38,738.23 700.97,737.73 706.57,737.24 712.17,736.74 717.76,736.23 723.36,735.68 728.96,735.09 734.55,734.44 740.15,733.71 745.75,732.81 751.34,731.55 756.94,729.63 762.54,726.93 768.13,723.74 773.73,720.5 779.33,717.62 784.92,715.66 790.52,715.49 796.12,717.9 801.71,723.38 807.31,731.7 812.91,741.89 818.5,753.03 824.1,764.63 829.7,776.25 835.29,787.51 840.89,798.28 846.49,808.39 852.08,817.65 857.68,826.01 863.28,833.56 868.87,840.29 874.47,846.09 880.07,851.13 885.66,855.68 891.26,859.97 896.86,864.16 902.45,868.36 908.05,872.48 913.65,876.42 919.24,880.16 924.84,883.77 930.44,887.25 936.03,890.54 941.63,893.6 947.23,896.36 952.82,898.8 958.42,900.92 964.02,902.75 969.61,904.31 975.21,905.62 980.81,906.71 986.4,907.62 992,908.34"/>
<path stroke="#1212ff" d="M656.2,741.28 661.8,740.72 667.39,740.17 672.99,739.63 678.59,739.11 684.18,738.6 689.78,738.1 695.38,737.6 700.97,737.06 706.57,736.48 712.17,735.87 717.76,735.23 723.36,734.59 728.96,733.92 734.55,733.19 740.15,732.33 745.75,731.19 751.34,729.59 756.94,727.35 762.54,724.44 768.13,721.28 773.73,718.34 779.33,716.15 784.92,715.32 790.52,716.5 796.12,720.23 801.71,726.78 807.31,735.71 812.91,746.16 818.5,757.41 824.1,769.06 829.7,780.62 835.29,791.64 840.89,801.89 846.49,811.46 852.08,820.29 857.68,828.07 863.28,834.94 868.87,841.14 874.47,846.55 880.07,851.31 885.66,855.71 891.26,859.96 896.86,864.16 902.45,868.36 908.05,872.48 913.65,876.42 919.24,880.16 924.84,883.77 930.44,887.25 936.03,890.54 941.63,893.58 947.23,896.38 952.82,898.94 958.42,901.24 964.02,903.22 969.61,904.89 975.21,906.26 980.81,907.38 986.4,908.29 992,908.98"/>
</g>
</g>
<g id="panel-G">
<text class="let" x="1054" y="558" font-size="39">G</text>
<rect class="ax" x="1186.2" y="599.6" width="335.8" height="336.4" stroke-width="3.5"/>
<path class="ax" stroke-width="3.5" d="M1172,936 H1186.2 M1172,879.93 H1186.2 M1172,823.87 H1186.2 M1172,767.8 H1186.2 M1172,711.73 H1186.2 M1172,655.67 H1186.2 M1172,599.6 H1186.2 M1186.2,936 V950.2 M1298.13,936 V950.2 M1410.07,936 V950.2 M1522,936 V950.2"/>
<g class="b" font-size="31.8" text-anchor="end">
<text x="1166.7" y="947.38">0.0</text>
<text x="1166.7" y="891.32">0.5</text>
<text x="1166.7" y="835.25">1.0</text>
<text x="1166.7" y="779.18">1.5</text>
<text x="1166.7" y="723.12">2.0</text>
<text x="1166.7" y="667.05">2.5</text>
<text x="1166.7" y="610.98">3.0</text>
</g>
<g class="b" font-size="31.8" text-anchor="middle">
<text x="1186.2" y="986">400</text>
<text x="1298.13" y="986">500</text>
<text x="1410.07" y="986">600</text>
<text x="1522" y="986">700</text>
</g>
<text class="b" font-size="31.5" text-anchor="middle" x="1354.1" y="1032.5">Wavelength (nm)</text>
<text class="b" font-size="31.5" text-anchor="middle" transform="translate(1105.9,762.9) rotate(-90) scale(1,1.1)">Optical Efficiency (A.U.)</text>
<g class="cv" stroke-width="5.3">
<path stroke="#ff8000" d="M1186.2,757.06 1191.8,756.08 1197.39,755.13 1202.99,754.22 1208.59,753.38 1214.18,752.59 1219.78,751.84 1225.38,751.14 1230.97,750.47 1236.57,749.83 1242.17,749.24 1247.76,748.74 1253.36,748.35 1258.96,748.1 1264.55,748.01 1270.15,748.12 1275.75,748.44 1281.34,748.83 1286.94,749.16 1292.54,749.33 1298.13,749.2 1303.73,748.53 1309.33,747.24 1314.92,745.25 1320.52,742.48 1326.12,739.11 1331.71,735.47 1337.31,732.02 1342.91,729.26 1348.5,727.79 1354.1,728.17 1359.7,730.65 1365.29,735.3 1370.89,742.81 1376.49,753.52 1382.08,767.09 1387.68,782.77 1393.28,798.88 1398.87,814.38 1404.47,828.95 1410.07,842.18 1415.66,853.93 1421.26,864.25 1426.86,872.9 1432.45,879.77 1438.05,885.36 1443.65,890.05 1449.24,893.9 1454.84,897.08 1460.44,899.76 1466.03,901.98 1471.63,903.86 1477.23,905.5 1482.82,906.95 1488.42,908.24 1494.02,909.32 1499.61,910.2 1505.21,910.92 1510.81,911.55 1516.4,912.12 1522,912.64"/>
<path stroke="#a813e6" d="M1186.2,753.38 1191.8,752.49 1197.39,751.61 1202.99,750.74 1208.59,749.9 1214.18,749.07 1219.78,748.27 1225.38,747.51 1230.97,746.81 1236.57,746.17 1242.17,745.59 1247.76,745.08 1253.36,744.63 1258.96,744.24 1264.55,743.9 1270.15,743.61 1275.75,743.36 1281.34,743.12 1286.94,742.89 1292.54,742.57 1298.13,741.93 1303.73,740.63 1309.33,738.39 1314.92,735.23 1320.52,731.53 1326.12,727.81 1331.71,724.59 1337.31,722.44 1342.91,721.99 1348.5,723.89 1354.1,728.47 1359.7,735.95 1365.29,746.76 1370.89,760.28 1376.49,775.23 1382.08,790.59 1387.68,805.64 1393.28,819.84 1398.87,832.84 1404.47,844.45 1410.07,854.61 1415.66,863.59 1421.26,871.35 1426.86,877.58 1432.45,882.59 1438.05,886.91 1443.65,890.69 1449.24,894.02 1454.84,896.99 1460.44,899.61 1466.03,901.85 1471.63,903.78 1477.23,905.47 1482.82,906.94 1488.42,908.23 1494.02,909.32 1499.61,910.21 1505.21,910.95 1510.81,911.59 1516.4,912.15 1522,912.63"/>
<path stroke="#00c000" d="M1186.2,749.93 1191.8,749.07 1197.39,748.23 1202.99,747.43 1208.59,746.67 1214.18,745.95 1219.78,745.25 1225.38,744.61 1230.97,744.01 1236.57,743.46 1242.17,742.95 1247.76,742.47 1253.36,742.02 1258.96,741.58 1264.55,741.17 1270.15,740.77 1275.75,740.37 1281.34,739.9 1286.94,739.18 1292.54,737.98 1298.13,736.11 1303.73,733.48 1309.33,730.27 1314.92,726.84 1320.52,723.69 1326.12,721.19 1331.71,719.79 1337.31,720.22 1342.91,723.59 1348.5,730.32 1354.1,740 1359.7,752.61 1365.29,766.89 1370.89,781.25 1376.49,795.44 1382.08,809.42 1387.68,822.57 1393.28,834.31 1398.87,844.61 1404.47,853.71 1410.07,861.84 1415.66,869.05 1421.26,875.08 1426.86,880.02 1432.45,884.32 1438.05,888.18 1443.65,891.64 1449.24,894.74 1454.84,897.53 1460.44,900 1466.03,902.11 1471.63,903.92 1477.23,905.52 1482.82,906.94 1488.42,908.22 1494.02,909.31 1499.61,910.21 1505.21,910.95 1510.81,911.59 1516.4,912.15 1522,912.63"/>
<path stroke="#ff0d0d" d="M1186.2,748.41 1191.8,747.57 1197.39,746.74 1202.99,745.93 1208.59,745.15 1214.18,744.37 1219.78,743.62 1225.38,742.92 1230.97,742.29 1236.57,741.73 1242.17,741.22 1247.76,740.74 1253.36,740.29 1258.96,739.87 1264.55,739.44 1270.15,738.92 1275.75,738.24 1281.34,737.31 1286.94,735.98 1292.54,734.03 1298.13,731.43 1303.73,728.34 1309.33,725.07 1314.92,722.14 1320.52,720.17 1326.12,719.69 1331.71,721.5 1337.31,726.37 1342.91,734.17 1348.5,744.63 1354.1,757.53 1359.7,771.65 1365.29,785.83 1370.89,799.71 1376.49,812.98 1382.08,825 1387.68,835.53 1393.28,844.77 1398.87,853.02 1404.47,860.49 1410.07,867.25 1415.66,873.06 1421.26,877.79 1426.86,881.8 1432.45,885.41 1438.05,888.73 1443.65,891.83 1449.24,894.74 1454.84,897.48 1460.44,899.97 1466.03,902.12 1471.63,903.94 1477.23,905.53 1482.82,906.94 1488.42,908.22 1494.02,909.31 1499.61,910.21 1505.21,910.95 1510.81,911.59 1516.4,912.15 1522,912.63"/>
<path stroke="#1212ff" d="M1186.2,747.33 1191.8,746.49 1197.39,745.66 1202.99,744.85 1208.59,744.07 1214.18,743.3 1219.78,742.56 1225.38,741.85 1230.97,741.19 1236.57,740.59 1242.17,740.03 1247.76,739.49 1253.36,738.97 1258.96,738.48 1264.55,737.98 1270.15,737.42 1275.75,736.72 1281.34,735.76 1286.94,734.27 1292.54,732.03 1298.13,729.13 1303.73,725.91 1309.33,722.9 1314.92,720.63 1320.52,719.62 1326.12,720.46 1331.71,723.85 1337.31,730.35 1342.91,739.94 1348.5,751.95 1354.1,765.41 1359.7,779.5 1365.29,793.59 1370.89,807.14 1376.49,819.7 1382.08,830.84 1387.68,840.48 1393.28,848.88 1398.87,856.38 1404.47,863.2 1410.07,869.34 1415.66,874.52 1421.26,878.77 1426.86,882.45 1432.45,885.82 1438.05,888.95 1443.65,891.92 1449.24,894.75 1454.84,897.47 1460.44,899.97 1466.03,902.12 1471.63,903.94 1477.23,905.53 1482.82,906.94 1488.42,908.22 1494.02,909.31 1499.61,910.21 1505.21,910.95 1510.81,911.59 1516.4,912.15 1522,912.63"/>
</g>
</g>
<g id="panel-H">
<text class="let" x="1585.3" y="555.7" font-size="39">H</text>
<rect class="ax" x="1703.2" y="591.4" width="336.2" height="336.3" stroke-width="3.5"/>
<path class="ax" stroke-width="3.5" d="M1689,927.7 H1703.2 M1689,843.62 H1703.2 M1689,759.55 H1703.2 M1689,675.48 H1703.2 M1689,591.4 H1703.2 M1703.2,927.7 V941.9 M1815.27,927.7 V941.9 M1927.33,927.7 V941.9 M2039.4,927.7 V941.9"/>
<g class="b" font-size="31.8" text-anchor="end">
<text x="1683.7" y="939.08">0.0</text>
<text x="1683.7" y="855.01">0.5</text>
<text x="1683.7" y="770.93">1.0</text>
<text x="1683.7" y="686.86">1.5</text>
<text x="1683.7" y="602.78">2.0</text>
</g>
<g class="b" font-size="31.8" text-anchor="middle">
<text x="1703.2" y="977.7">400</text>
<text x="1815.27" y="977.7">500</text>
<text x="1927.33" y="977.7">600</text>
<text x="2039.4" y="977.7">700</text>
</g>
<text class="b" font-size="31.5" text-anchor="middle" x="1871.3" y="1024.2">Wavelength (nm)</text>
<text class="b" font-size="31.5" text-anchor="middle" transform="translate(1622.9,754.65) rotate(-90) scale(1,1.1)">Optical Efficiency (A.U.)</text>
<g class="cv" stroke-width="5.3">
<path stroke="#ff8000" d="M1703.2,670.59 1708.8,669.14 1714.41,667.74 1720.01,666.41 1725.61,665.17 1731.22,663.99 1736.82,662.89 1742.42,661.87 1748.03,660.95 1753.63,660.1 1759.23,659.34 1764.84,658.69 1770.44,658.17 1776.04,657.82 1781.65,657.68 1787.25,657.87 1792.85,658.45 1798.46,659.36 1804.06,660.47 1809.66,661.63 1815.27,662.59 1820.87,663.21 1826.47,663.54 1832.08,663.66 1837.68,663.68 1843.28,663.81 1848.89,664.17 1854.49,664.86 1860.09,666 1865.7,667.51 1871.3,669.38 1876.9,672.12 1882.51,676.27 1888.11,681.36 1893.71,686.74 1899.32,693 1904.92,701.73 1910.52,714.42 1916.13,731.2 1921.73,750.59 1927.33,770.77 1932.94,790.02 1938.54,807.25 1944.14,822.09 1949.75,834.57 1955.35,845.05 1960.95,853.63 1966.56,860.43 1972.16,866.23 1977.76,871.76 1983.37,877.09 1988.97,881.8 1994.57,885.66 2000.18,888.77 2005.78,891.34 2011.38,893.47 2016.99,895.32 2022.59,896.89 2028.19,898.14 2033.8,899.06 2039.4,899.71"/>
<path stroke="#a813e6" d="M1703.2,666.91 1708.8,665.35 1714.41,663.81 1720.01,662.29 1725.61,660.81 1731.22,659.33 1736.82,657.89 1742.42,656.53 1748.03,655.28 1753.63,654.15 1759.23,653.14 1764.84,652.3 1770.44,651.66 1776.04,651.18 1781.65,650.87 1787.25,650.78 1792.85,650.88 1798.46,651.11 1804.06,651.46 1809.66,651.88 1815.27,652.27 1820.87,652.47 1826.47,652.43 1832.08,652.16 1837.68,651.74 1843.28,651.31 1848.89,651 1854.49,650.95 1860.09,651.47 1865.7,652.87 1871.3,655.67 1876.9,660.45 1882.51,666.77 1888.11,674.21 1893.71,684.99 1899.32,700.75 1904.92,720.19 1910.52,741.37 1916.13,762.66 1921.73,782.69 1927.33,800.39 1932.94,815.6 1938.54,828.49 1944.14,839.37 1949.75,848.44 1955.35,855.62 1960.95,861.24 1966.56,866.05 1972.16,870.59 1977.76,875.12 1983.37,879.55 1988.97,883.53 1994.57,886.87 2000.18,889.65 2005.78,891.96 2011.38,893.88 2016.99,895.54 2022.59,896.96 2028.19,898.12 2033.8,899.04 2039.4,899.72"/>
<path stroke="#00c000" d="M1703.2,663.67 1708.8,661.87 1714.41,660.11 1720.01,658.38 1725.61,656.7 1731.22,655.04 1736.82,653.43 1742.42,651.9 1748.03,650.51 1753.63,649.24 1759.23,648.08 1764.84,647.04 1770.44,646.14 1776.04,645.35 1781.65,644.68 1787.25,644.16 1792.85,643.76 1798.46,643.42 1804.06,643.05 1809.66,642.61 1815.27,642.03 1820.87,641.18 1826.47,640.02 1832.08,638.66 1837.68,637.21 1843.28,635.93 1848.89,635.17 1854.49,635.59 1860.09,637.96 1865.7,642.8 1871.3,650.44 1876.9,660.98 1882.51,674.01 1888.11,690.01 1893.71,708.72 1899.32,728.86 1904.92,749.54 1910.52,769.67 1916.13,788.3 1921.73,804.69 1927.33,818.59 1932.94,830.36 1938.54,840.29 1944.14,848.61 1949.75,855.45 1955.35,861.17 1960.95,866.23 1966.56,870.81 1972.16,874.95 1977.76,878.71 1983.37,882.15 1988.97,885.24 1994.57,887.99 2000.18,890.46 2005.78,892.59 2011.38,894.37 2016.99,895.85 2022.59,897.11 2028.19,898.17 2033.8,899.04 2039.4,899.72"/>
<path stroke="#ff0d0d" d="M1703.2,661.07 1708.8,659.24 1714.41,657.43 1720.01,655.64 1725.61,653.88 1731.22,652.15 1736.82,650.44 1742.42,648.79 1748.03,647.21 1753.63,645.7 1759.23,644.27 1764.84,642.94 1770.44,641.72 1776.04,640.61 1781.65,639.58 1787.25,638.62 1792.85,637.71 1798.46,636.78 1804.06,635.68 1809.66,634.26 1815.27,632.49 1820.87,630.37 1826.47,628.11 1832.08,626.07 1837.68,624.5 1843.28,623.77 1848.89,624.52 1854.49,627.49 1860.09,633.22 1865.7,642.18 1871.3,654.74 1876.9,670.89 1882.51,690.02 1888.11,710.79 1893.71,731.84 1899.32,752.33 1904.92,771.81 1910.52,789.63 1916.13,805.23 1921.73,818.46 1927.33,829.56 1932.94,838.88 1938.54,846.75 1944.14,853.42 1949.75,859.13 1955.35,864.29 1960.95,869.06 1966.56,873.4 1972.16,877.29 1977.76,880.76 1983.37,883.88 1988.97,886.63 1994.57,889.04 2000.18,891.19 2005.78,893.06 2011.38,894.63 2016.99,895.95 2022.59,897.1 2028.19,898.11 2033.8,898.99 2039.4,899.74"/>
<path stroke="#1212ff" d="M1703.2,658.91 1708.8,657.08 1714.41,655.27 1720.01,653.48 1725.61,651.72 1731.22,649.98 1736.82,648.28 1742.42,646.62 1748.03,645.05 1753.63,643.54 1759.23,642.11 1764.84,640.78 1770.44,639.57 1776.04,638.47 1781.65,637.43 1787.25,636.42 1792.85,635.41 1798.46,634.32 1804.06,632.97 1809.66,631.16 1815.27,628.93 1820.87,626.42 1826.47,623.93 1832.08,621.9 1837.68,620.65 1843.28,620.6 1848.89,622.29 1854.49,626.35 1860.09,633.38 1865.7,644.15 1871.3,659.72 1876.9,679.45 1882.51,700.9 1888.11,722.49 1893.71,743.59 1899.32,763.76 1904.92,782.31 1910.52,798.58 1916.13,812.44 1921.73,824.08 1927.33,833.83 1932.94,842.1 1938.54,849.23 1944.14,855.38 1949.75,860.81 1955.35,865.83 1960.95,870.5 1966.56,874.73 1972.16,878.47 1977.76,881.73 1983.37,884.62 1988.97,887.19 1994.57,889.49 2000.18,891.57 2005.78,893.39 2011.38,894.88 2016.99,896.1 2022.59,897.16 2028.19,898.12 2033.8,898.98 2039.4,899.75"/>
</g>
</g>
<g id="panel-I">
<text class="let" x="-1.2" y="1101.7" font-size="39">I</text>
<rect class="ax" x="114.3" y="1138.5" width="336.1" height="336" stroke-width="3.5"/>
<path class="ax" stroke-width="3.5" d="M100.1,1474.5 H114.3 M100.1,1390.5 H114.3 M100.1,1306.5 H114.3 M100.1,1222.5 H114.3 M100.1,1138.5 H114.3 M114.3,1474.5 V1488.7 M226.33,1474.5 V1488.7 M338.37,1474.5 V1488.7 M450.4,1474.5 V1488.7"/>
<g class="b" font-size="31.8" text-anchor="end">
<text x="94.8" y="1485.88">0.0</text>
<text x="94.8" y="1401.88">0.5</text>
<text x="94.8" y="1317.88">1.0</text>
<text x="94.8" y="1233.88">1.5</text>
<text x="94.8" y="1149.88">2.0</text>
</g>
<g class="b" font-size="31.8" text-anchor="middle">
<text x="114.3" y="1524.5">400</text>
<text x="226.33" y="1524.5">500</text>
<text x="338.37" y="1524.5">600</text>
<text x="450.4" y="1524.5">700</text>
</g>
<text class="b" font-size="31.5" text-anchor="middle" x="282.35" y="1571">Wavelength (nm)</text>
<text class="b" font-size="31.5" text-anchor="middle" transform="translate(34,1301.6) rotate(-90) scale(1,1.1)">Optical Efficiency (A.U.)</text>
<g class="cv" stroke-width="5.3">
<path stroke="#ff8000" d="M114.3,1225.37 119.9,1224.34 125.5,1223.34 131.1,1222.36 136.71,1221.41 142.31,1220.51 147.91,1219.67 153.51,1218.89 159.11,1218.18 164.71,1217.57 170.32,1217.08 175.92,1216.7 181.52,1216.41 187.12,1216.21 192.72,1216.17 198.32,1216.41 203.93,1217.09 209.53,1218.34 215.13,1219.94 220.73,1221.52 226.33,1222.87 231.93,1223.83 237.54,1224.4 243.14,1224.67 248.74,1225.1 254.34,1226.77 259.94,1230.29 265.54,1235.28 271.15,1241.4 276.75,1248.42 282.35,1255.48 287.95,1261.77 293.55,1267.87 299.15,1274.87 304.76,1282.54 310.36,1289.99 315.96,1296.4 321.56,1301.73 327.16,1307.36 332.76,1314.33 338.37,1322.73 343.97,1332.87 349.57,1345.34 355.17,1359.94 360.77,1375.1 366.37,1389.03 371.98,1401.15 377.58,1411.64 383.18,1420.47 388.78,1427.02 394.38,1431.42 399.98,1434.6 405.59,1437.14 411.19,1439.34 416.79,1441.3 422.39,1442.92 427.99,1444.22 433.59,1445.32 439.2,1446.33 444.8,1447.29 450.4,1448.21"/>
<path stroke="#a813e6" d="M114.3,1222.55 119.9,1221.41 125.5,1220.24 131.1,1219.03 136.71,1217.77 142.31,1216.51 147.91,1215.32 153.51,1214.21 159.11,1213.2 164.71,1212.33 170.32,1211.65 175.92,1211.11 181.52,1210.69 187.12,1210.4 192.72,1210.26 198.32,1210.29 203.93,1210.51 209.53,1210.95 215.13,1211.65 220.73,1212.53 226.33,1213.46 231.93,1214.39 237.54,1215.26 243.14,1216.06 248.74,1217.18 254.34,1219.4 259.94,1223.03 265.54,1227.54 271.15,1232.45 276.75,1237.97 282.35,1244.68 287.95,1252.94 293.55,1261.6 299.15,1269.52 304.76,1277.04 310.36,1283.09 315.96,1287.69 321.56,1294.4 327.16,1305.26 332.76,1320.1 338.37,1337.33 343.97,1354.6 349.57,1370.51 355.17,1384.5 360.77,1396.49 366.37,1406.74 371.98,1415.43 377.58,1422.24 383.18,1426.97 388.78,1430.45 394.38,1433.6 399.98,1436.56 405.59,1439.11 411.19,1441.15 416.79,1442.81 422.39,1444.16 427.99,1445.29 433.59,1446.28 439.2,1447.21 444.8,1448.09 450.4,1448.94"/>
<path stroke="#00c000" d="M114.3,1220.39 119.9,1219.09 125.5,1217.77 131.1,1216.41 136.71,1215.02 142.31,1213.62 147.91,1212.23 153.51,1210.85 159.11,1209.51 164.71,1208.29 170.32,1207.22 175.92,1206.29 181.52,1205.51 187.12,1204.93 192.72,1204.56 198.32,1204.35 203.93,1204.24 209.53,1204.25 215.13,1204.39 220.73,1204.64 226.33,1205.05 231.93,1205.76 237.54,1206.89 243.14,1208.54 248.74,1210.59 254.34,1212.83 259.94,1215.26 265.54,1218.09 271.15,1221.82 276.75,1226.95 282.35,1233.83 287.95,1242.8 293.55,1252.96 299.15,1261.92 304.76,1269.01 310.36,1277.5 315.96,1290.07 321.56,1306.39 327.16,1324.79 332.76,1343.04 338.37,1359.62 343.97,1374.11 349.57,1386.76 355.17,1397.96 360.77,1407.67 366.37,1415.75 371.98,1422.1 377.58,1426.69 383.18,1430.07 388.78,1432.95 394.38,1435.74 399.98,1438.43 405.59,1440.79 411.19,1442.71 416.79,1444.27 422.39,1445.52 427.99,1446.56 433.59,1447.46 439.2,1448.25 444.8,1448.96 450.4,1449.57"/>
<path stroke="#ff0d0d" d="M114.3,1218.87 119.9,1217.51 125.5,1216.11 131.1,1214.66 136.71,1213.15 142.31,1211.6 147.91,1210.03 153.51,1208.42 159.11,1206.82 164.71,1205.28 170.32,1203.87 175.92,1202.58 181.52,1201.42 187.12,1200.43 192.72,1199.61 198.32,1198.95 203.93,1198.44 209.53,1198.1 215.13,1197.89 220.73,1197.78 226.33,1197.79 231.93,1198 237.54,1198.54 243.14,1199.62 248.74,1201.35 254.34,1203.62 259.94,1206.4 265.54,1209.67 271.15,1213.59 276.75,1218.57 282.35,1225.07 287.95,1233.3 293.55,1243.18 299.15,1254.81 304.76,1268.69 310.36,1285.14 315.96,1303.76 321.56,1323.31 327.16,1342.05 332.76,1358.87 338.37,1373.59 343.97,1386.4 349.57,1397.34 355.17,1406.46 360.77,1414.05 366.37,1420.34 371.98,1425.26 377.58,1429.07 383.18,1432.25 388.78,1435.11 394.38,1437.72 399.98,1440.08 405.59,1442.12 411.19,1443.81 416.79,1445.23 422.39,1446.4 427.99,1447.38 433.59,1448.22 439.2,1448.95 444.8,1449.59 450.4,1450.14"/>
<path stroke="#1212ff" d="M114.3,1217.13 119.9,1215.81 125.5,1214.4 131.1,1212.89 136.71,1211.27 142.31,1209.57 147.91,1207.86 153.51,1206.14 159.11,1204.43 164.71,1202.78 170.32,1201.23 175.92,1199.78 181.52,1198.45 187.12,1197.29 192.72,1196.32 198.32,1195.52 203.93,1194.87 209.53,1194.34 215.13,1193.92 220.73,1193.61 226.33,1193.49 231.93,1193.65 237.54,1194.2 243.14,1195.31 248.74,1197.03 254.34,1199.28 259.94,1202.08 265.54,1205.56 271.15,1209.95 276.75,1215.57 282.35,1222.76 287.95,1231.77 293.55,1242.85 299.15,1256.22 304.76,1272.48 310.36,1291.8 315.96,1312.36 321.56,1332.15 327.16,1350.04 332.76,1365.78 338.37,1379.37 343.97,1391.04 349.57,1401.04 355.17,1409.37 360.77,1416.26 366.37,1422.03 371.98,1426.82 377.58,1430.74 383.18,1433.86 388.78,1436.46 394.38,1438.86 399.98,1441.1 405.59,1443.04 411.19,1444.63 416.79,1445.93 422.39,1447 427.99,1447.89 433.59,1448.67 439.2,1449.36 444.8,1449.96 450.4,1450.49"/>
</g>
</g>
<g id="panel-J">
<text class="let" x="518.2" y="1107.3" font-size="39">J</text>
<rect class="ax" x="671.8" y="1152.6" width="354.8" height="354.6" stroke-width="3.69"/>
<path class="ax" stroke-width="3.69" d="M656.82,1507.2 H671.8 M656.82,1418.55 H671.8 M656.82,1329.9 H671.8 M656.82,1241.25 H671.8 M656.82,1152.6 H671.8 M671.8,1507.2 V1522.18 M790.07,1507.2 V1522.18 M908.33,1507.2 V1522.18 M1026.6,1507.2 V1522.18"/>
<g class="b" font-size="33.55" text-anchor="end">
<text x="651.23" y="1519.21">0.0</text>
<text x="651.23" y="1430.56">0.5</text>
<text x="651.23" y="1341.91">1.0</text>
<text x="651.23" y="1253.26">1.5</text>
<text x="651.23" y="1164.61">2.0</text>
</g>
<g class="b" font-size="33.55" text-anchor="middle">
<text x="671.8" y="1559.95">400</text>
<text x="790.07" y="1559.95">500</text>
<text x="908.33" y="1559.95">600</text>
<text x="1026.6" y="1559.95">700</text>
</g>
<text class="b" font-size="33.23" text-anchor="middle" x="849.2" y="1609.01">Wavelength (nm)</text>
<text class="b" font-size="33.23" text-anchor="middle" transform="translate(587.08,1324.73) rotate(-90) scale(1,1.1)">Optical Efficiency (A.U.)</text>
<g class="cv" stroke-width="5.59">
<path stroke="#ff8000" d="M671.8,1253.13 677.71,1252.03 683.63,1250.98 689.54,1250 695.45,1249.07 701.37,1248.19 707.28,1247.34 713.19,1246.51 719.11,1245.71 725.02,1244.98 730.93,1244.34 736.85,1243.8 742.76,1243.36 748.67,1243.06 754.59,1243.01 760.5,1243.38 766.41,1244.3 772.33,1245.89 778.24,1248.17 784.15,1250.66 790.07,1252.94 795.98,1254.65 801.89,1255.52 807.81,1255.56 813.72,1254.98 819.63,1254.27 825.55,1254 831.46,1255.2 837.37,1258.66 843.29,1263.87 849.2,1271.28 855.11,1282.31 861.03,1297.28 866.94,1314.66 872.85,1330.93 878.77,1344.41 884.68,1355.63 890.59,1363.83 896.51,1369.27 902.42,1374.22 908.33,1380.03 914.25,1386.58 920.16,1393.79 926.07,1401.88 931.99,1410.57 937.9,1418.57 943.81,1425.09 949.73,1430.58 955.64,1435.73 961.55,1440.85 967.47,1445.83 973.38,1450.4 979.29,1454.39 985.21,1457.84 991.12,1460.91 997.03,1463.68 1002.95,1466.21 1008.86,1468.55 1014.77,1470.76 1020.69,1472.77 1026.6,1474.53"/>
<path stroke="#a813e6" d="M671.8,1249.02 677.71,1248.02 683.63,1247.05 689.54,1246.1 695.45,1245.19 701.37,1244.31 707.28,1243.46 713.19,1242.64 719.11,1241.86 725.02,1241.11 730.93,1240.41 736.85,1239.76 742.76,1239.15 748.67,1238.61 754.59,1238.21 760.5,1238.07 766.41,1238.34 772.33,1239.28 778.24,1240.87 784.15,1242.72 790.07,1244.5 795.98,1246.03 801.89,1247.08 807.81,1247.84 813.72,1248.93 819.63,1251.06 825.55,1255.17 831.46,1261.55 837.37,1269.59 843.29,1278.81 849.2,1288.74 855.11,1299.03 861.03,1309.78 866.94,1320.99 872.85,1332.16 878.77,1342.86 884.68,1352.72 890.59,1361.04 896.51,1367.4 902.42,1373.11 908.33,1379.82 914.25,1387.62 920.16,1396.13 926.07,1405.2 931.99,1414.29 937.9,1422.58 943.81,1429.85 949.73,1436.2 955.64,1441.78 961.55,1446.85 967.47,1451.52 973.38,1455.74 979.29,1459.47 985.21,1462.82 991.12,1465.91 997.03,1468.7 1002.95,1471.13 1008.86,1473.24 1014.77,1475.1 1020.69,1476.65 1026.6,1477.83"/>
<path stroke="#00c000" d="M671.8,1245.8 677.71,1245.05 683.63,1244.22 689.54,1243.31 695.45,1242.32 701.37,1241.28 707.28,1240.25 713.19,1239.25 719.11,1238.29 725.02,1237.37 730.93,1236.49 736.85,1235.65 742.76,1234.87 748.67,1234.15 754.59,1233.5 760.5,1233 766.41,1232.76 772.33,1233 778.24,1233.76 784.15,1234.86 790.07,1236.2 795.98,1237.72 801.89,1239.38 807.81,1241.36 813.72,1244.11 819.63,1248.04 825.55,1253.43 831.46,1260.33 837.37,1268.49 843.29,1277.59 849.2,1287.2 855.11,1297 861.03,1306.96 866.94,1317.27 872.85,1328.02 878.77,1339.03 884.68,1349.63 890.59,1359.03 896.51,1366.69 902.42,1373.82 908.33,1382.3 914.25,1392.07 920.16,1402.32 926.07,1412.51 931.99,1422.05 937.9,1430.63 943.81,1437.78 949.73,1442.94 955.64,1447.01 961.55,1451.37 967.47,1456.06 973.38,1460.56 979.29,1464.51 985.21,1467.93 991.12,1470.98 997.03,1473.63 1002.95,1475.79 1008.86,1477.51 1014.77,1478.91 1020.69,1479.97 1026.6,1480.65"/>
<path stroke="#ff0d0d" d="M671.8,1243.97 677.71,1243.22 683.63,1242.4 689.54,1241.5 695.45,1240.52 701.37,1239.47 707.28,1238.37 713.19,1237.22 719.11,1236.02 725.02,1234.83 730.93,1233.67 736.85,1232.54 742.76,1231.45 748.67,1230.44 754.59,1229.54 760.5,1228.79 766.41,1228.24 772.33,1228.01 778.24,1228.13 784.15,1228.6 790.07,1229.52 795.98,1230.99 801.89,1233.09 807.81,1236.01 813.72,1239.93 819.63,1244.88 825.55,1250.9 831.46,1258.27 837.37,1266.95 843.29,1276.03 849.2,1285.08 855.11,1294.33 861.03,1303.85 866.94,1313.61 872.85,1323.71 878.77,1334.26 884.68,1345.2 890.59,1356.45 896.51,1368 902.42,1379.62 908.33,1391.05 914.25,1402.3 920.16,1413.21 926.07,1423.42 931.99,1432.64 937.9,1440.15 943.81,1445.81 949.73,1451.21 955.64,1456.62 961.55,1461.18 967.47,1465.01 973.38,1468.26 979.29,1471 985.21,1473.41 991.12,1475.6 997.03,1477.57 1002.95,1479.25 1008.86,1480.68 1014.77,1481.92 1020.69,1482.95 1026.6,1483.71"/>
<path stroke="#1212ff" d="M671.8,1242.82 677.71,1242.1 683.63,1241.27 689.54,1240.33 695.45,1239.29 701.37,1238.17 707.28,1237.01 713.19,1235.85 719.11,1234.66 725.02,1233.47 730.93,1232.26 736.85,1231.03 742.76,1229.81 748.67,1228.68 754.59,1227.72 760.5,1226.95 766.41,1226.39 772.33,1226.1 778.24,1226.06 784.15,1226.31 790.07,1226.97 795.98,1228.17 801.89,1230.1 807.81,1233.09 813.72,1237.36 819.63,1242.86 825.55,1249.36 831.46,1257 837.37,1265.72 843.29,1274.64 849.2,1283.43 855.11,1292.5 861.03,1302.02 866.94,1311.95 872.85,1322.37 878.77,1333.38 884.68,1344.87 890.59,1356.73 896.51,1369 902.42,1381.55 908.33,1393.97 914.25,1405.91 920.16,1417.07 926.07,1427.18 931.99,1435.99 937.9,1443.33 943.81,1449.51 949.73,1454.81 955.64,1459.43 961.55,1463.66 967.47,1467.54 973.38,1470.9 979.29,1473.63 985.21,1475.85 991.12,1477.78 997.03,1479.5 1002.95,1481.04 1008.86,1482.45 1014.77,1483.78 1020.69,1484.97 1026.6,1486"/>
</g>
</g>
<g id="panel-K">
<text class="let" x="1053.8" y="1107.3" font-size="39">K</text>
<rect class="ax" x="1187.2" y="1150.2" width="336" height="335.8" stroke-width="3.5"/>
<path class="ax" stroke-width="3.5" d="M1173,1486 H1187.2 M1173,1402.05 H1187.2 M1173,1318.1 H1187.2 M1173,1234.15 H1187.2 M1173,1150.2 H1187.2 M1187.2,1486 V1500.2 M1299.2,1486 V1500.2 M1411.2,1486 V1500.2 M1523.2,1486 V1500.2"/>
<g class="b" font-size="31.8" text-anchor="end">
<text x="1167.7" y="1497.38">0.0</text>
<text x="1167.7" y="1413.43">0.5</text>
<text x="1167.7" y="1329.48">1.0</text>
<text x="1167.7" y="1245.53">1.5</text>
<text x="1167.7" y="1161.58">2.0</text>
</g>
<g class="b" font-size="31.8" text-anchor="middle">
<text x="1187.2" y="1536">400</text>
<text x="1299.2" y="1536">500</text>
<text x="1411.2" y="1536">600</text>
<text x="1523.2" y="1536">700</text>
</g>
<text class="b" font-size="31.5" text-anchor="middle" x="1355.2" y="1582.5">Wavelength (nm)</text>
<text class="b" font-size="31.5" text-anchor="middle" transform="translate(1106.9,1313.2) rotate(-90) scale(1,1.1)">Optical Efficiency (A.U.)</text>
<g class="cv" stroke-width="5.3">
<path stroke="#ff8000" d="M1187.2,1254.1 1192.8,1252.92 1198.4,1251.77 1204,1250.65 1209.6,1249.56 1215.2,1248.52 1220.8,1247.53 1226.4,1246.59 1232,1245.71 1237.6,1244.93 1243.2,1244.27 1248.8,1243.74 1254.4,1243.32 1260,1243.05 1265.6,1243.03 1271.2,1243.4 1276.8,1244.28 1282.4,1245.84 1288,1248.12 1293.6,1250.84 1299.2,1253.68 1304.8,1256.25 1310.4,1258.09 1316,1259.02 1321.6,1259.05 1327.2,1258.45 1332.8,1257.53 1338.4,1256.73 1344,1256.77 1349.6,1258.66 1355.2,1263.27 1360.8,1270.08 1366.4,1278.49 1372,1290.11 1377.6,1306.37 1383.2,1324.54 1388.8,1341.62 1394.4,1357.2 1400,1370.73 1405.6,1381.22 1411.2,1388.65 1416.8,1394.35 1422.4,1399.39 1428,1404.07 1433.6,1408.49 1439.2,1412.77 1444.8,1416.99 1450.4,1421.2 1456,1425.37 1461.6,1429.4 1467.2,1433.18 1472.8,1436.71 1478.4,1439.98 1484,1443 1489.6,1445.76 1495.2,1448.18 1500.8,1450.11 1506.4,1451.61 1512,1452.8 1517.6,1453.68 1523.2,1454.25"/>
<path stroke="#a813e6" d="M1187.2,1250.2 1192.8,1249.03 1198.4,1247.88 1204,1246.76 1209.6,1245.67 1215.2,1244.63 1220.8,1243.64 1226.4,1242.71 1232,1241.84 1237.6,1241.05 1243.2,1240.35 1248.8,1239.74 1254.4,1239.22 1260,1238.8 1265.6,1238.56 1271.2,1238.59 1276.8,1238.99 1282.4,1239.92 1288,1241.43 1293.6,1243.31 1299.2,1245.34 1304.8,1247.23 1310.4,1248.62 1316,1249.38 1321.6,1249.59 1327.2,1249.73 1332.8,1250.65 1338.4,1253.22 1344,1258.44 1349.6,1266.67 1355.2,1276.11 1360.8,1285.19 1366.4,1295.55 1372,1308.31 1377.6,1322.33 1383.2,1336.15 1388.8,1348.72 1394.4,1360.09 1400,1370.83 1405.6,1380.5 1411.2,1388.23 1416.8,1394.45 1422.4,1399.92 1428,1404.94 1433.6,1409.66 1439.2,1414.19 1444.8,1418.66 1450.4,1423.12 1456,1427.53 1461.6,1431.76 1467.2,1435.71 1472.8,1439.39 1478.4,1442.8 1484,1445.9 1489.6,1448.73 1495.2,1451.22 1500.8,1453.28 1506.4,1454.96 1512,1456.38 1517.6,1457.5 1523.2,1458.3"/>
<path stroke="#00c000" d="M1187.2,1246.53 1192.8,1245.34 1198.4,1244.19 1204,1243.11 1209.6,1242.09 1215.2,1241.11 1220.8,1240.16 1226.4,1239.21 1232,1238.28 1237.6,1237.43 1243.2,1236.67 1248.8,1236.01 1254.4,1235.43 1260,1234.94 1265.6,1234.55 1271.2,1234.31 1276.8,1234.33 1282.4,1234.74 1288,1235.62 1293.6,1236.85 1299.2,1238.31 1304.8,1239.88 1310.4,1241.42 1316,1242.96 1321.6,1244.76 1327.2,1247.28 1332.8,1251.39 1338.4,1257.89 1344,1266.59 1349.6,1276.29 1355.2,1286.41 1360.8,1297.44 1366.4,1309.18 1372,1320.81 1377.6,1331.88 1383.2,1342.27 1388.8,1351.97 1394.4,1361.16 1400,1369.95 1405.6,1378.22 1411.2,1385.66 1416.8,1392.33 1422.4,1398.56 1428,1404.48 1433.6,1410.15 1439.2,1415.59 1444.8,1420.82 1450.4,1425.85 1456,1430.65 1461.6,1435.13 1467.2,1439.22 1472.8,1442.95 1478.4,1446.33 1484,1449.37 1489.6,1452.1 1495.2,1454.48 1500.8,1456.43 1506.4,1458.02 1512,1459.36 1517.6,1460.42 1523.2,1461.17"/>
<path stroke="#ff0d0d" d="M1187.2,1244.37 1192.8,1243.19 1198.4,1242.04 1204,1240.93 1209.6,1239.85 1215.2,1238.8 1220.8,1237.78 1226.4,1236.79 1232,1235.81 1237.6,1234.89 1243.2,1234.01 1248.8,1233.19 1254.4,1232.43 1260,1231.78 1265.6,1231.29 1271.2,1230.97 1276.8,1230.86 1282.4,1231 1288,1231.45 1293.6,1232.16 1299.2,1233.22 1304.8,1234.66 1310.4,1236.52 1316,1239.01 1321.6,1242.44 1327.2,1247.19 1332.8,1253.6 1338.4,1261.87 1344,1271.91 1349.6,1283.25 1355.2,1294.93 1360.8,1306.16 1366.4,1316.73 1372,1326.69 1377.6,1336.09 1383.2,1344.99 1388.8,1353.47 1394.4,1361.66 1400,1369.69 1405.6,1377.48 1411.2,1384.88 1416.8,1391.86 1422.4,1398.59 1428,1405.12 1433.6,1411.43 1439.2,1417.49 1444.8,1423.27 1450.4,1428.77 1456,1433.93 1461.6,1438.65 1467.2,1442.88 1472.8,1446.67 1478.4,1450.01 1484,1452.88 1489.6,1455.32 1495.2,1457.4 1500.8,1459.13 1506.4,1460.58 1512,1461.85 1517.6,1462.89 1523.2,1463.68"/>
<path stroke="#1212ff" d="M1187.2,1242.86 1192.8,1241.57 1198.4,1240.35 1204,1239.23 1209.6,1238.21 1215.2,1237.23 1220.8,1236.25 1226.4,1235.24 1232,1234.22 1237.6,1233.22 1243.2,1232.25 1248.8,1231.3 1254.4,1230.42 1260,1229.68 1265.6,1229.14 1271.2,1228.81 1276.8,1228.68 1282.4,1228.8 1288,1229.17 1293.6,1229.79 1299.2,1230.75 1304.8,1232.11 1310.4,1233.93 1316,1236.51 1321.6,1240.39 1327.2,1246.1 1332.8,1253.95 1338.4,1263.72 1344,1274.6 1349.6,1285.82 1355.2,1297.04 1360.8,1308.05 1366.4,1318.46 1372,1328.15 1377.6,1337.27 1383.2,1345.84 1388.8,1353.91 1394.4,1361.76 1400,1369.55 1405.6,1377.15 1411.2,1384.6 1416.8,1392.17 1422.4,1399.68 1428,1406.4 1433.6,1412.49 1439.2,1418.57 1444.8,1424.58 1450.4,1430.22 1456,1435.4 1461.6,1440.13 1467.2,1444.39 1472.8,1448.21 1478.4,1451.58 1484,1454.45 1489.6,1456.87 1495.2,1458.92 1500.8,1460.63 1506.4,1462.09 1512,1463.37 1517.6,1464.44 1523.2,1465.25"/>
</g>
</g>
<g id="panel-L">
<text class="let" x="1688.6" y="1163.1" font-size="37">L</text>
<rect class="ax" x="1719.5" y="1180" width="302.4" height="313.6" stroke-width="4"/>
<path d="M1799.3,1227 H1840.9" stroke="#1212ff" stroke-width="6" stroke-linecap="round" fill="none"/>
<text x="1864.2" y="1240.9" font-size="38.8" fill="#000" textLength="71.6" lengthAdjust="spacingAndGlyphs">1.33</text>
<path d="M1799.3,1282.4 H1840.9" stroke="#ff0d0d" stroke-width="6" stroke-linecap="round" fill="none"/>
<text x="1864.2" y="1296.3" font-size="38.8" fill="#000" textLength="71.6" lengthAdjust="spacingAndGlyphs">1.35</text>
<path d="M1799.3,1338 H1840.9" stroke="#00c000" stroke-width="6" stroke-linecap="round" fill="none"/>
<text x="1864.2" y="1351.9" font-size="38.8" fill="#000" textLength="71.6" lengthAdjust="spacingAndGlyphs">1.40</text>
<path d="M1799.3,1393.4 H1840.9" stroke="#a813e6" stroke-width="6" stroke-linecap="round" fill="none"/>
<text x="1864.2" y="1407.3" font-size="38.8" fill="#000" textLength="71.6" lengthAdjust="spacingAndGlyphs">1.45</text>
<path d="M1799.3,1448.8 H1840.9" stroke="#ff8000" stroke-width="6" stroke-linecap="round" fill="none"/>
<text x="1864.2" y="1462.7" font-size="38.8" fill="#000" textLength="71.6" lengthAdjust="spacingAndGlyphs">1.50</text>
</g>
</svg></body></html>
